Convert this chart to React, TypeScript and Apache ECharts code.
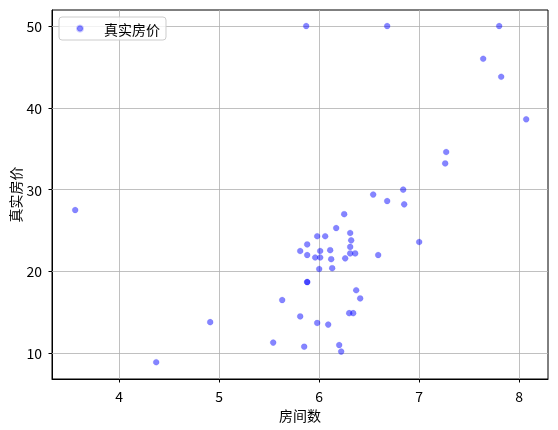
import React, { useEffect, useRef } from "react";
import * as echarts from "echarts";

const rooms: number[] = [
  3.56, 4.37, 4.91, 5.54, 5.63, 5.81, 5.81, 5.85, 5.87, 5.88, 5.88, 5.88, 5.88,
  5.96, 5.98, 5.98, 6.0, 6.01, 6.01, 6.06, 6.09, 6.11, 6.12, 6.13, 6.17, 6.2,
  6.22, 6.25, 6.26, 6.3, 6.31, 6.31, 6.31, 6.32, 6.34, 6.36, 6.37, 6.41, 6.54,
  6.59, 6.68, 6.68, 6.84, 6.85, 7.0, 7.26, 7.27, 7.64, 7.8, 7.82, 8.07,
];
const prices: number[] = [
  27.5, 8.9, 13.8, 11.3, 16.5, 14.5, 22.5, 10.8, 50.0, 23.3, 22.0, 18.7, 18.7,
  21.7, 24.3, 13.7, 20.3, 22.5, 21.7, 24.3, 13.5, 22.6, 21.5, 20.4, 25.3, 11.0,
  10.2, 27.0, 21.6, 14.9, 24.7, 23.0, 22.2, 23.8, 14.9, 22.2, 17.7, 16.7, 29.4,
  22.0, 50.0, 28.6, 30.0, 28.2, 23.6, 33.2, 34.6, 46.0, 50.0, 43.8, 38.6,
];
const xTicks: number[] = [4, 5, 6, 7, 8];
const yTicks: number[] = [10, 20, 30, 40, 50];
const seriesName = "真实房价";
const xName = "房间数";
const yName = "真实房价";

const FONT = "'Noto Sans CJK SC', 'DejaVu Sans', sans-serif";

export default function App() {
  const ref = useRef<HTMLDivElement>(null);
  useEffect(() => {
    if (!ref.current) return;
    const chart = echarts.init(ref.current, undefined, { renderer: "svg" });
    const points = rooms.map((r, i) => [r, prices[i]]);
    chart.setOption({
      animation: false,
      textStyle: { fontFamily: FONT },
      grid: {
        left: 52,
        top: 10,
        right: 10,
        bottom: 51,
        containLabel: false,
        outerBoundsMode: "none",
        show: true,
        borderColor: "#000",
        borderWidth: 1,
        backgroundColor: "transparent",
      },
      legend: {
        left: 59,
        top: 17,
        orient: "vertical",
        padding: [4, 6, 4, 17],
        itemWidth: 6,
        itemHeight: 6,
        icon: "circle",
        borderColor: "#cccccc",
        borderWidth: 1,
        borderRadius: 3,
        backgroundColor: "rgba(255,255,255,0.8)",
        textStyle: {
          fontFamily: FONT,
          fontSize: 14,
          color: "#000",
          padding: [0, 0, 0, 16],
          lineHeight: 15,
        },
        data: [seriesName],
      },
      xAxis: {
        type: "value",
        min: 3.328,
        max: 8.288,
        name: xName,
        nameLocation: "middle",
        nameGap: 29,
        nameMoveOverlap: false,
        nameTextStyle: { fontFamily: FONT, fontSize: 14, color: "#000" },
        axisLine: { show: true, lineStyle: { color: "#000", width: 1 } },
        axisTick: {
          show: true,
          inside: false,
          length: 3.5,
          lineStyle: { color: "#000", width: 1 },
          customValues: xTicks,
        },
        axisLabel: {
          margin: 10,
          fontFamily: FONT,
          fontSize: 14,
          color: "#000",
          customValues: xTicks,
          formatter: (v: number) => String(v),
        },
        splitLine: { show: false },
      },
      yAxis: {
        type: "value",
        min: 6.85,
        max: 51.96,
        name: yName,
        nameLocation: "middle",
        nameGap: 30,
        nameMoveOverlap: false,
        nameTextStyle: { fontFamily: FONT, fontSize: 14, color: "#000" },
        axisLine: { show: true, lineStyle: { color: "#000", width: 1 } },
        axisTick: {
          show: true,
          inside: false,
          length: 3.5,
          lineStyle: { color: "#000", width: 1 },
          customValues: yTicks,
        },
        axisLabel: {
          margin: 10,
          fontFamily: FONT,
          fontSize: 14,
          color: "#000",
          customValues: yTicks,
          formatter: (v: number) => String(v),
        },
        splitLine: { show: false },
      },
      series: [
        {
          name: "grid",
          type: "line",
          data: [],
          silent: true,
          z: 1,
          markLine: {
            silent: true,
            z: 1,
            symbol: "none",
            animation: false,
            label: { show: false },
            emphasis: { disabled: true },
            lineStyle: { color: "#b0b0b0", width: 0.8, type: "solid" },
            data: [
              ...xTicks.map((v) => ({ xAxis: v })),
              ...yTicks.map((v) => ({ yAxis: v })),
            ],
          },
        },
        {
          name: seriesName,
          type: "scatter",
          z: 3,
          data: points,
          symbol: "circle",
          symbolSize: 6,
          itemStyle: {
            color: "rgba(0,0,255,0.6)",
            borderColor: "rgba(0,0,255,0.25)",
            borderWidth: 0.6,
          },
          emphasis: { disabled: true },
        },
      ],
    });
    return () => chart.dispose();
  }, []);
  return (
    <div
      ref={ref}
      style={{ position: "fixed", left: 0, top: 0, width: 558, height: 430 }}
    />
  );
}
